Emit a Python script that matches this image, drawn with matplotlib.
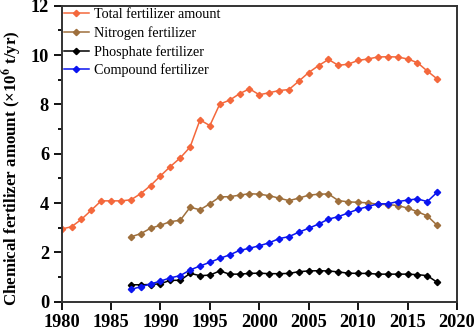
import numpy as np
import matplotlib.pyplot as plt
from matplotlib.ticker import MultipleLocator

plt.rcParams['font.family'] = ['Liberation Serif', 'DejaVu Serif']
plt.rcParams['mathtext.fontset'] = 'stix'

# 年份
years_total = np.arange(1980, 2019)
years_sub = np.arange(1987, 2019)

# 化肥用量 (×10^6 t/yr)
total = [2.95, 3.04, 3.34, 3.71, 4.09, 4.09, 4.09, 4.13, 4.38, 4.71,
         5.10, 5.48, 5.83, 6.27, 7.37, 7.14, 8.01, 8.17, 8.43, 8.63,
         8.39, 8.47, 8.56, 8.60, 8.94, 9.29, 9.57, 9.82, 9.58, 9.63,
         9.78, 9.84, 9.92, 9.93, 9.92, 9.84, 9.69, 9.35, 9.03]
nitrogen = [2.63, 2.76, 2.98, 3.10, 3.25, 3.30, 3.83, 3.73, 3.97, 4.25,
            4.26, 4.32, 4.38, 4.36, 4.30, 4.20, 4.10, 4.20, 4.32, 4.36,
            4.37, 4.10, 4.05, 4.03, 4.01, 3.95, 3.94, 3.90, 3.80, 3.65,
            3.48, 3.10]
phosphate = [0.69, 0.69, 0.70, 0.73, 0.87, 0.87, 1.15, 1.06, 1.08, 1.25,
             1.12, 1.12, 1.15, 1.16, 1.14, 1.14, 1.15, 1.22, 1.25, 1.26,
             1.25, 1.21, 1.16, 1.15, 1.15, 1.12, 1.12, 1.12, 1.12, 1.10,
             1.06, 0.79]
compound = [0.50, 0.61, 0.72, 0.84, 0.97, 1.06, 1.29, 1.45, 1.60, 1.76,
            1.90, 2.08, 2.17, 2.27, 2.39, 2.56, 2.64, 2.82, 2.98, 3.15,
            3.35, 3.45, 3.60, 3.75, 3.86, 3.97, 3.97, 4.06, 4.12, 4.17,
            4.06, 4.44]

fig = plt.figure(figsize=(4.74, 3.32), dpi=100)
ax = fig.add_axes([0.130, 0.091, 0.834, 0.892])

ms = 3.2
ax.plot(years_total, total, color='#F4683C', marker='D', ms=ms, lw=1.1,
        label='Total fertilizer amount')
ax.plot(years_sub, nitrogen, color='#9E6F3C', marker='D', ms=ms, lw=1.1,
        label='Nitrogen fertilizer')
ax.plot(years_sub, phosphate, color='black', marker='D', ms=ms, lw=1.1,
        label='Phosphate fertilizer')
ax.plot(years_sub, compound, color='#0A14F0', marker='D', ms=ms, lw=1.1,
        label='Compound fertilizer')

ax.set_xlim(1980, 2020)
ax.set_ylim(0, 12)
ax.xaxis.set_major_locator(MultipleLocator(5))
ax.yaxis.set_major_locator(MultipleLocator(2))
ax.yaxis.set_minor_locator(MultipleLocator(1))
ax.tick_params(axis='both', which='major', direction='out', length=5.5, width=1.3,
               labelsize=13.2)
ax.tick_params(axis='y', which='minor', direction='out', length=3, width=1.3)
for lab in ax.get_xticklabels() + ax.get_yticklabels():
    lab.set_fontweight('bold')
for sp in ax.spines.values():
    sp.set_linewidth(1.4)
    sp.set_color('#333333')

ax.set_ylabel(r'Chemical fertilizer amount (×10$^{\mathbf{6}}$ t/yr)',
              fontsize=12.2, fontweight='bold')
ax.yaxis.set_label_coords(-0.094, 0.45)

ax.legend(loc='upper left', frameon=False, fontsize=10.2, handlelength=1.75,
          handletextpad=0.4, labelspacing=0.36, borderpad=0.15,
          borderaxespad=0.0)

fig.savefig('out.png', dpi=100)
